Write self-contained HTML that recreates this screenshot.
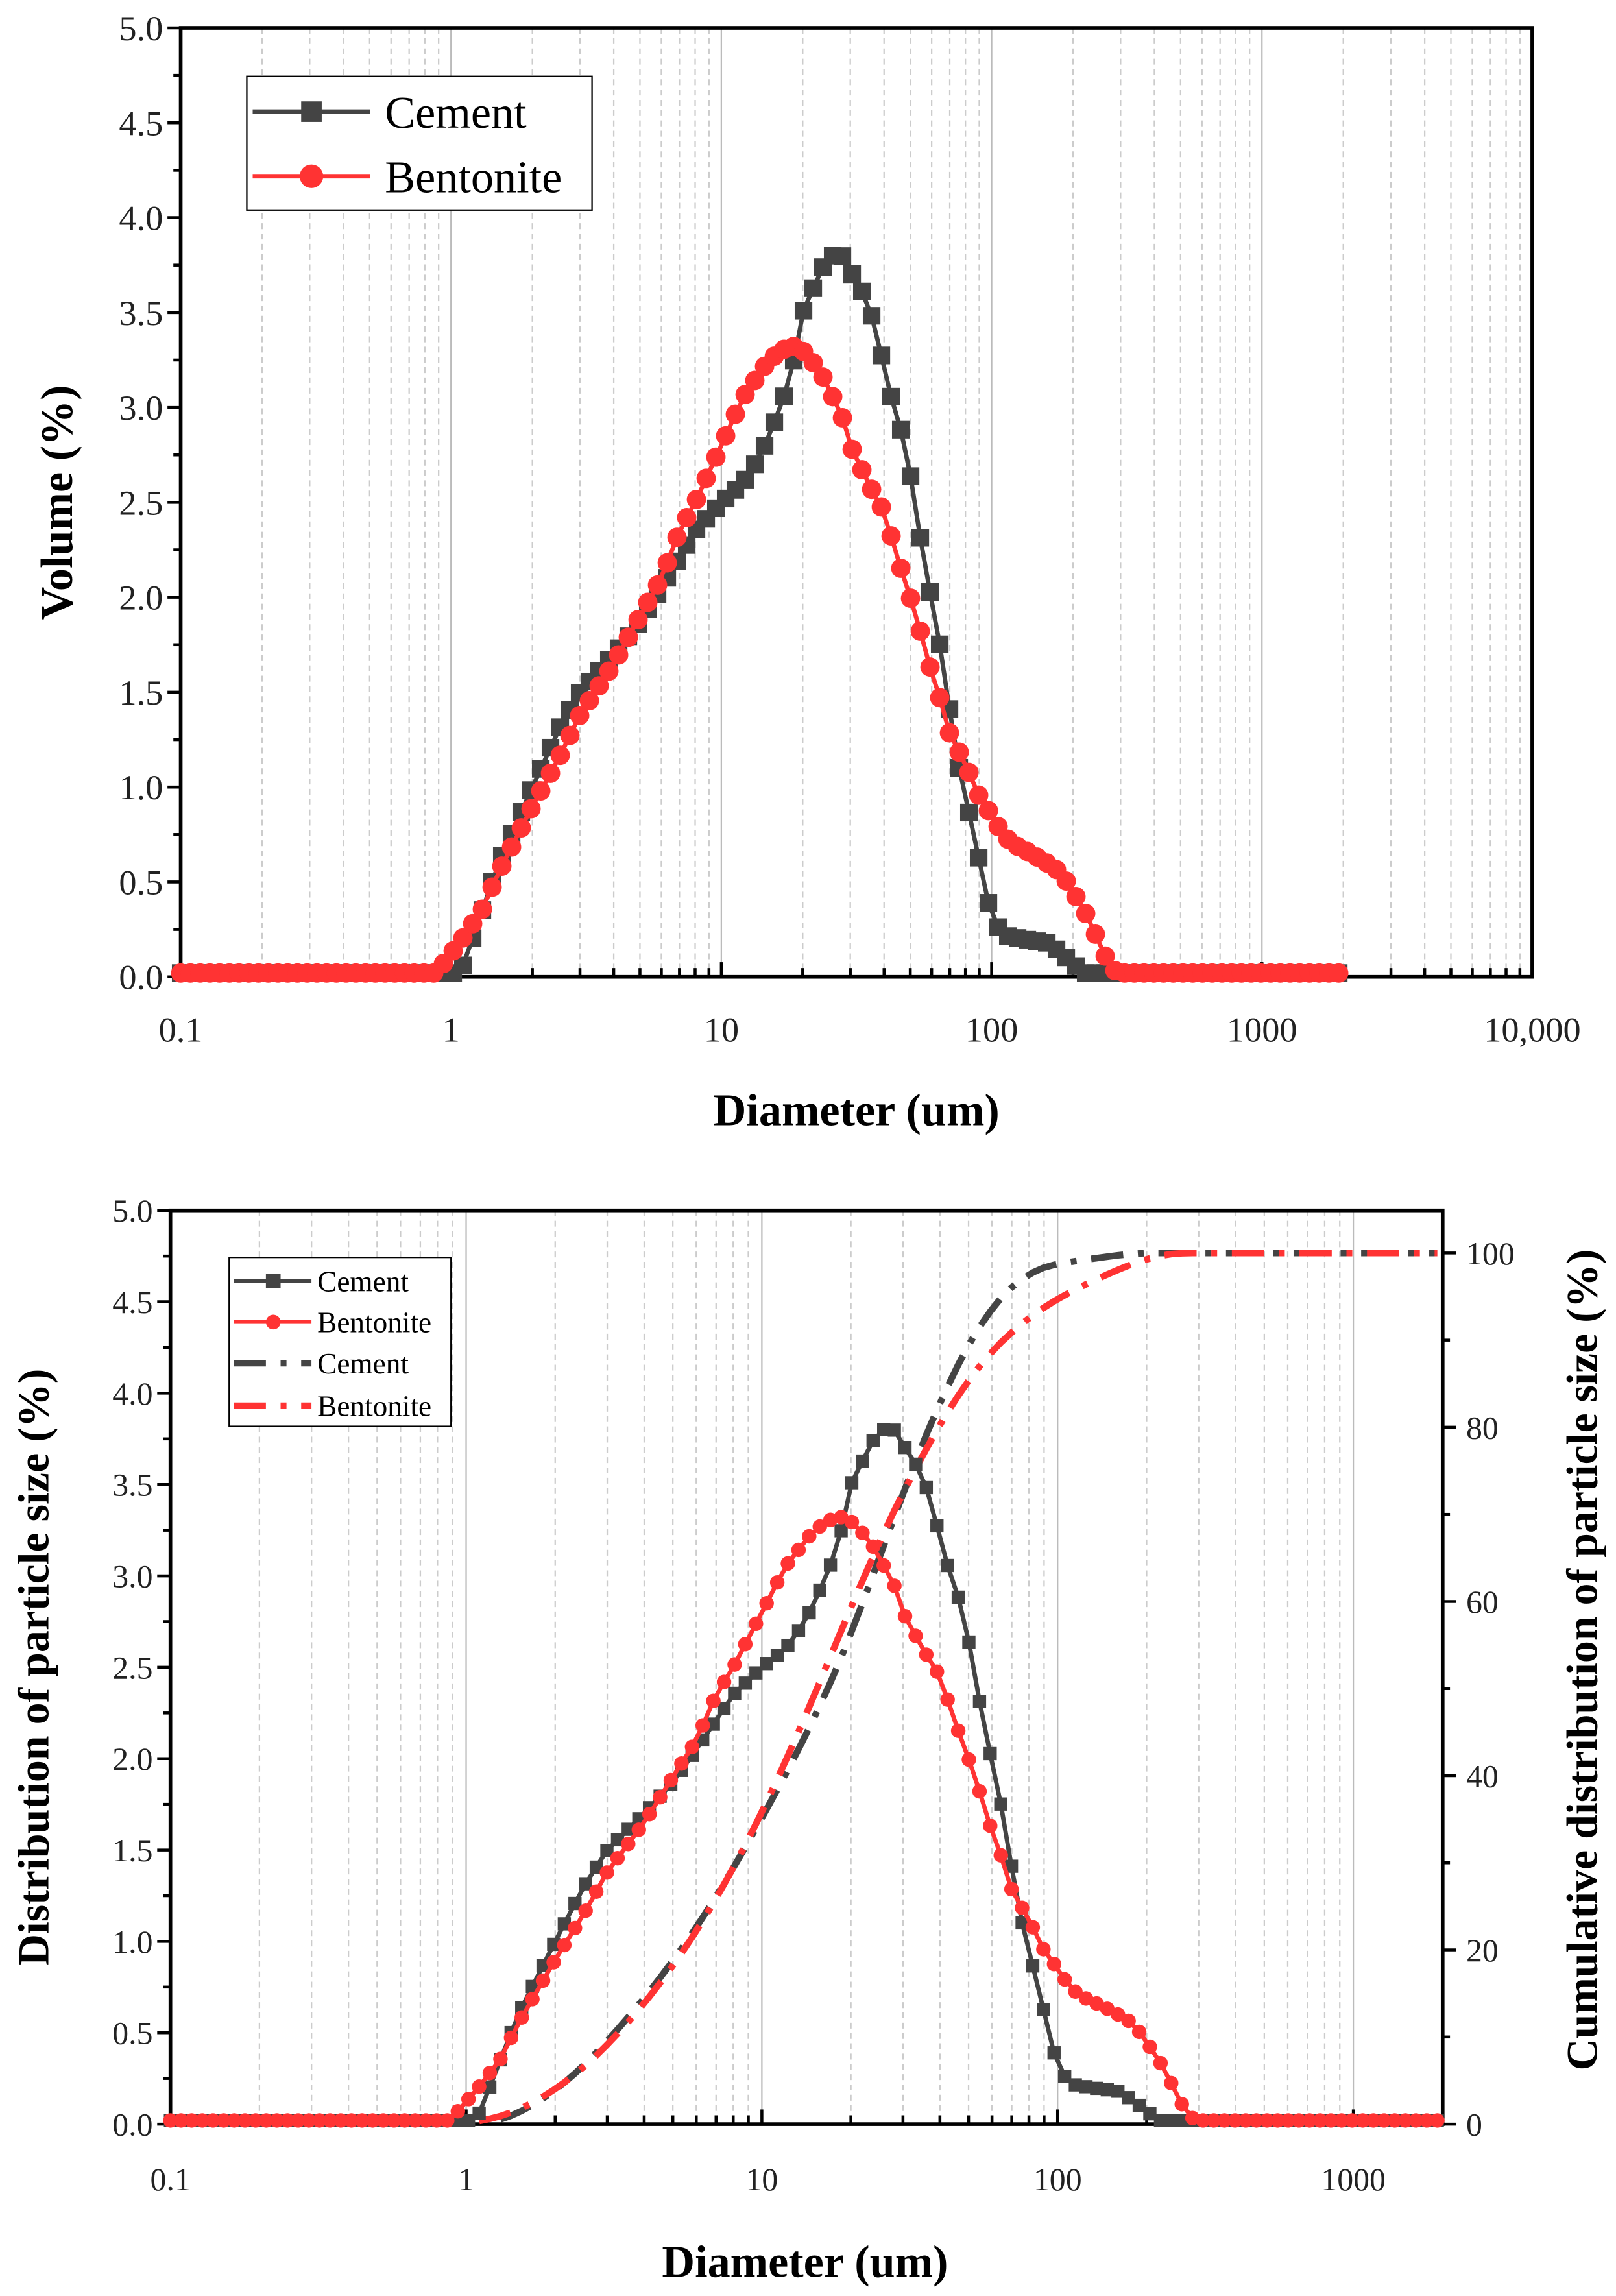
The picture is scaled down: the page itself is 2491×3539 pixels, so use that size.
<!DOCTYPE html>
<html><head><meta charset="utf-8"><style>
html,body{margin:0;padding:0;background:#fff}
svg{display:block}
text{font-family:"Liberation Serif",serif}
</style></head><body>
<svg id="s" width="2491" height="3539" viewBox="0 0 1100 1563" preserveAspectRatio="none" xmlns="http://www.w3.org/2000/svg"></svg>
<script>
const S=document.getElementById('s');let h='';
const cemK=[[0.1,0],[1.05,0],[1.1,0.05],[1.2,0.2],[1.5,0.6],[2,1.0],[2.5,1.3],[3,1.5],[4,1.7],[5,1.87],[6,2.05],[8,2.35],[10,2.5],[12,2.6],[14,2.75],[16,2.95],[18,3.15],[20,3.5],[23,3.7],[25,3.8],[28,3.8],[30,3.72],[35,3.55],[38,3.35],[42,3.08],[48,2.8],[52,2.5],[56,2.2],[62,1.88],[68,1.55],[72,1.25],[80,0.95],[88,0.68],[95,0.45],[100,0.32],[110,0.22],[130,0.2],[160,0.18],[180,0.13],[200,0.07],[220,0.02],[250,0],[3000,0]];
const benK=[[0.1,0],[0.85,0],[0.95,0.08],[1.1,0.2],[1.3,0.35],[1.5,0.55],[2,0.9],[2.5,1.15],[3,1.38],[4,1.65],[5,1.9],[6,2.1],[7,2.35],[8,2.5],[10,2.8],[12,3.05],[15,3.25],[18,3.33],[20,3.3],[23,3.2],[25,3.1],[28,2.95],[30,2.8],[35,2.6],[40,2.45],[45,2.2],[50,2.0],[55,1.8],[60,1.6],[65,1.45],[70,1.28],[80,1.12],[90,0.95],[100,0.85],[110,0.75],[120,0.7],[140,0.65],[160,0.6],[180,0.55],[200,0.45],[230,0.3],[260,0.12],[290,0.02],[320,0],[3000,0]];
function interp(K,x){const lx=Math.log10(x);for(let i=0;i<K.length-1;i++){const a=Math.log10(K[i][0]),b=Math.log10(K[i+1][0]);if(lx>=a&&lx<=b){const t=(lx-a)/(b-a);return K[i][1]+t*(K[i+1][1]-K[i][1]);}}return 0;}
const xs=[];for(let l=-1;l<=3.3011;l+=0.036)xs.push(Math.pow(10,l));
function series(K){return xs.map(x=>[x,Math.max(interp(K,x),0.02)]);}
const cem=series(cemK),ben=series(benK);
function cum(d){let tot=0;d.forEach(p=>tot+=p[1]>0.021?p[1]:0);let c=0;return d.map(p=>{c+=p[1]>0.021?p[1]:0;return[p[0],100*c/tot];});}
function chart(o){
 const X=x=>o.l+(Math.log10(x)-o.lx0)*o.dec, Y=v=>o.b-v*o.uy;
 for(let d=o.lx0;d<o.lx1;d++){for(let m=1;m<10;m++){const x=Math.pow(10,d)*m;if(Math.log10(x)>o.lx1+1e-9)break;const px=X(x);
  if(m==1){if(d!=o.lx0)h+=`<line x1="${px}" y1="${o.t}" x2="${px}" y2="${o.b}" stroke="#bbb" stroke-width="1"/>`;}
  else h+=`<line x1="${px}" y1="${o.t}" x2="${px}" y2="${o.b}" stroke="#ccc" stroke-width="1" stroke-dasharray="4,3"/>`;
  h+=`<line x1="${px}" y1="${o.b}" x2="${px}" y2="${o.b-(m==1?10:6)}" stroke="#000" stroke-width="2"/>`;}}
 if(o.lx1%1==0)h+=`<line x1="${o.r}" y1="${o.b}" x2="${o.r}" y2="${o.b-10}" stroke="#000" stroke-width="2"/>`;
 for(let i=0;i<=20;i++){const v=i*0.25,py=Y(v);h+=`<line x1="${o.l}" y1="${py}" x2="${o.l-(i%2==0?9:5)}" y2="${py}" stroke="#000" stroke-width="2"/>`;
  if(i%2==0)h+=`<text x="${o.l-12}" y="${py+o.fs*0.35}" font-size="${o.fs}" text-anchor="end" fill="#222">${(v).toFixed(1)}</text>`;}
 h+=`<rect x="${o.l}" y="${o.t}" width="${o.r-o.l}" height="${o.b-o.t}" fill="none" stroke="#000" stroke-width="2.5"/>`;
 o.xl.forEach(([x,s])=>h+=`<text x="${X(x)}" y="${o.b+o.xly}" font-size="${o.fs}" text-anchor="middle" fill="#222">${s}</text>`);
 if(o.right){for(let i=0;i<=10;i++){const v=i*10,py=o.b-v*o.ry;h+=`<line x1="${o.r}" y1="${py}" x2="${o.r+(i%2==0?9:5)}" y2="${py}" stroke="#000" stroke-width="2"/>`;
  if(i%2==0)h+=`<text x="${o.r+16}" y="${py+o.fs*0.35}" font-size="${o.fs}" fill="#222">${v}</text>`;}
  [[cum(cem),'#444'],[cum(ben),'#f33']].forEach(([d,c])=>{const pts=d.filter(p=>p[1]>0.3||p[0]>100).map(p=>X(p[0])+','+(o.b-p[1]*o.ry)).join(' ');
   h+=`<polyline points="${pts}" fill="none" stroke="${c}" stroke-width="4.5" stroke-dasharray="22,10,4,10"/>`;});}
 const line=(d,c)=>h+=`<polyline points="${d.map(p=>X(p[0])+','+Y(p[1])).join(' ')}" fill="none" stroke="${c}" stroke-width="3"/>`;
 line(cem,'#444');cem.forEach(p=>h+=`<rect x="${X(p[0])-o.ms/2}" y="${Y(p[1])-o.ms/2}" width="${o.ms}" height="${o.ms}" fill="#444"/>`);
 line(ben,'#f33');ben.forEach(p=>h+=`<circle cx="${X(p[0])}" cy="${Y(p[1])}" r="${o.ms*0.55}" fill="#f33"/>`);
}
chart({l:123,r:1043,t:19,b:665,lx0:-1,lx1:4,dec:184,uy:129.2,fs:24,ms:12,xly:44,
 xl:[[0.1,'0.1'],[1,'1'],[10,'10'],[100,'100'],[1000,'1000'],[10000,'10,000']]});
h+=`<text x="583" y="766" font-size="31" font-weight="bold" text-anchor="middle">Diameter (um)</text>`;
h+=`<text transform="translate(49,342) rotate(-90)" font-size="31" font-weight="bold" text-anchor="middle">Volume (%)</text>`;
h+=`<rect x="168" y="52" width="235" height="91" fill="#fff" stroke="#000" stroke-width="1"/>`;
h+=`<line x1="172" y1="76" x2="252" y2="76" stroke="#444" stroke-width="3"/><rect x="205" y="69" width="14" height="14" fill="#444"/><text x="262" y="87" font-size="31">Cement</text>`;
h+=`<line x1="172" y1="120" x2="252" y2="120" stroke="#f33" stroke-width="3"/><circle cx="212" cy="120" r="8" fill="#f33"/><text x="262" y="131" font-size="31">Bentonite</text>`;
chart({l:116,r:982,t:824,b:1446,lx0:-1,lx1:Math.log10(2000),dec:201.3,uy:124.4,fs:22,ms:9,xly:45,right:true,ry:5.93,
 xl:[[0.1,'0.1'],[1,'1'],[10,'10'],[100,'100'],[1000,'1000']]});
h+=`<text x="548" y="1550" font-size="31" font-weight="bold" text-anchor="middle">Diameter (um)</text>`;
h+=`<text transform="translate(33,1135) rotate(-90)" font-size="30" font-weight="bold" text-anchor="middle">Distribution of particle size (%)</text>`;
h+=`<text transform="translate(1087,1130) rotate(-90)" font-size="30" font-weight="bold" text-anchor="middle">Cumulative distribution of particle size (%)</text>`;
h+=`<rect x="156" y="856" width="151" height="115" fill="#fff" stroke="#000" stroke-width="1"/>`;
const lg=[[872,'#444','s','Cement'],[900,'#f33','c','Bentonite'],[928,'#444','d','Cement'],[957,'#f33','d','Bentonite']];
lg.forEach(([y,c,t,s])=>{if(t=='d')h+=`<line x1="159" y1="${y}" x2="212" y2="${y}" stroke="${c}" stroke-width="4.5" stroke-dasharray="22,10,4,10"/>`;
 else{h+=`<line x1="159" y1="${y}" x2="212" y2="${y}" stroke="${c}" stroke-width="2.5"/>`;h+=t=='s'?`<rect x="181" y="${y-5}" width="10" height="10" fill="${c}"/>`:`<circle cx="186" cy="${y}" r="5" fill="${c}"/>`;}
 h+=`<text x="216" y="${y+7}" font-size="20">${s}</text>`;});
S.innerHTML=h;
</script>
</body></html>
